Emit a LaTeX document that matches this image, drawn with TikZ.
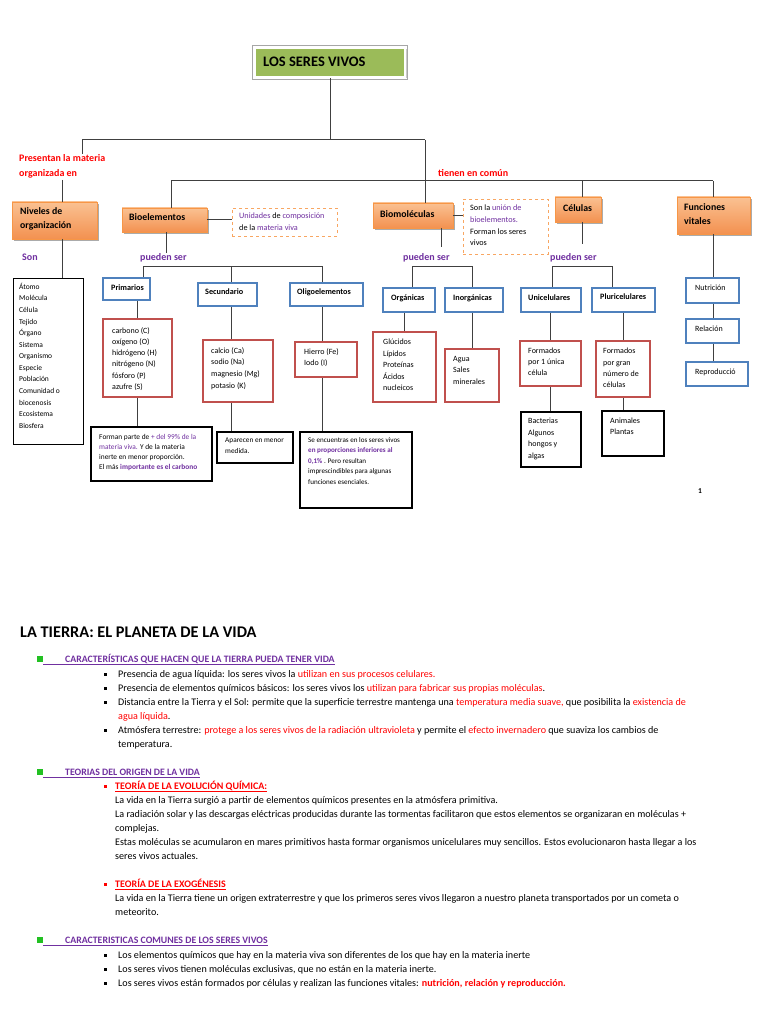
\documentclass[tikz,border=0pt]{standalone}
\usepackage{fontspec}
\setmainfont{Carlito}
\usetikzlibrary{fit,shadows}
\definecolor{purp}{HTML}{7030A0}
\definecolor{redt}{HTML}{FF0000}
\definecolor{ored}{HTML}{C0504D}
\definecolor{oblue}{HTML}{4F81BD}
\definecolor{oorange}{HTML}{F79646}
\definecolor{ortop}{HTML}{FAC192}
\definecolor{orbot}{HTML}{F39150}
\definecolor{ogreen}{HTML}{9BBB59}
\definecolor{conc}{HTML}{404040}
\definecolor{gbul}{HTML}{22C022}
\newcommand\fsz[2]{\fontsize{#1}{#2}\selectfont}
\newcommand\redtx[1]{\textcolor{redt}{#1}}
\newcommand\purtx[1]{\textcolor{purp}{#1}}
\begin{document}
\begin{tikzpicture}[x=1pt,y=-1pt,
  con/.style={draw=conc, line width=1pt},
  obox/.style={rectangle, inner sep=0pt, draw=oorange, line width=0.6pt, top color=ortop, bottom color=orbot,
    drop shadow={shadow xshift=1.8pt, shadow yshift=-2pt, fill=black!60, opacity=0.55}},
  dbox/.style={rectangle, inner sep=0pt, draw=oorange!85, dashed, line width=0.9pt},
  bbox/.style={rectangle, inner sep=0pt, draw=oblue, line width=2.4pt, fill=white},
  rbox/.style={rectangle, inner sep=0pt, draw=ored, line width=2.4pt, fill=white},
  kbox/.style={rectangle, inner sep=0pt, draw=black, line width=2.8pt, fill=white},
  lbox/.style={rectangle, inner sep=0pt, draw=black, line width=0.9pt},
  tx/.style={inner sep=0pt, anchor=north west, align=left},
  otx/.style={tx, font=\bfseries\fsz{9.8}{14}},
  btx/.style={tx, font=\bfseries\fsz{8.2}{9}},
  ftx/.style={tx, font=\fsz{8}{9}},
  lab/.style={tx, font=\bfseries\fsz{10}{15}},
  body/.style={inner sep=0pt, anchor=base west, font=\fsz{10.1}{12}},
  head/.style={inner sep=0pt, anchor=base west, font=\bfseries\fsz{9.8}{12}, text=purp},
  sq/.style={fill=black, minimum size=3pt, inner sep=0pt},
  rsq/.style={fill=redt, minimum size=3pt, inner sep=0pt},
  gsq/.style={fill=gbul, minimum width=6pt, minimum height=6pt, inner sep=0pt}
]
\useasboundingbox (0,0) rectangle (768,1024);
\fill[white] (0,0) rectangle (768,1024);

% ---------- boxes ----------
\node[inner sep=0pt, fit={(255,48) (405,77)}, fill=ogreen, draw=white, line width=2.2pt,
  drop shadow={shadow xshift=1.5pt, shadow yshift=-1.5pt, fill=black!40, opacity=0.5}] (title) {};
\draw[gray!70, line width=0.6pt] ([shift={(-1.4,-1.4)}]title.north west) rectangle ([shift={(1.4,1.4)}]title.south east);

\node[obox, fit={(12,202) (97,239)}] (niv) {};
\node[obox, fit={(122,208) (207,232)}] (bio) {};
\node[obox, fit={(373,203) (453,228)}] (biom) {};
\node[obox, fit={(555,197) (601,222)}] (cel) {};
\node[obox, fit={(677,197) (750,234)}] (fun) {};

\node[dbox, fit={(232,208) (337,236)}] (uni) {};
\node[dbox, fit={(463,199) (548,254)}] (son) {};

\node[lbox, fit={(13,278) (83,444)}] (list) {};

\node[bbox, fit={(103,278) (150,300)}] (pri) {};
\node[bbox, fit={(198,283) (257,306)}] (sec) {};
\node[bbox, fit={(290,283) (363,306)}] (oli) {};
\node[bbox, fit={(383,288) (435,312)}] (org) {};
\node[bbox, fit={(445,288) (503,312)}] (inorg) {};
\node[bbox, fit={(521,288) (581,312)}] (unic) {};
\node[bbox, fit={(592,288) (655,312)}] (pluri) {};
\node[bbox, fit={(686,278) (739,303)}] (nut) {};
\node[bbox, fit={(686,319) (739,343)}] (rel) {};
\node[bbox, fit={(686,362) (748,386)}] (rep) {};

\node[rbox, fit={(103,319) (172,397)}] (carb) {};
\node[rbox, fit={(203,340) (273,402)}] (secr) {};
\node[rbox, fit={(295,342) (357,377)}] (olir) {};
\node[rbox, fit={(373,332) (436,402)}] (orgr) {};
\node[rbox, fit={(445,349) (499,402)}] (inorgr) {};
\node[rbox, fit={(520,341) (581,386)}] (unir) {};
\node[rbox, fit={(596,341) (650,397)}] (plurir) {};

\node[kbox, fit={(91,427) (212,481)}] (formk) {};
\node[kbox, fit={(217,432) (293,463)}] (apak) {};
\node[kbox, fit={(300,432) (412,508)}] (olik) {};
\node[kbox, fit={(521,412) (581,467)}] (bactk) {};
\node[kbox, fit={(602,411) (664,456)}] (animk) {};

% ---------- box texts ----------
\node[tx, font=\bfseries\fsz{14.5}{16}] (t_title) at (263,56.6) {LOS SERES VIVOS};
\node[otx] (t_niv) at (20,207.4) {Niveles de\\organización};
\node[otx] (t_bio) at (129,213.6) {Bioelementos};
\node[otx] (t_biom) at (380,210.6) {Biomoléculas};
\node[otx] (t_cel) at (563,204) {Células};
\node[otx] (t_fun) at (684,203.8) {Funciones\\vitales};

\node[tx, font=\fsz{8.2}{12}] (t_uni) at (239,213) {\purtx{Unidades} de \purtx{composición}\\de la \purtx{materia viva}};
\node[tx, font=\fsz{8.2}{11.7}] (t_son) at (470,205) {Son la \purtx{unión de}\\\purtx{bioelementos.}\\Forman los seres\\vivos};

\node[ftx, font=\fsz{7.5}{11.58}] (t_list) at (19,282.8) {Átomo\\Molécula\\Célula\\Tejido\\Órgano\\Sistema\\Organismo\\Especie\\Población\\Comunidad o\\biocenosis\\Ecosistema\\Biosfera};

\node[btx] (t_pri) at (111,285) {Primarios};
\node[btx] (t_sec) at (205,289) {Secundario};
\node[btx] (t_oli) at (297,289) {Oligoelementos};
\node[btx] (t_org) at (391,295) {Orgánicas};
\node[btx] (t_inorg) at (453,295) {Inorgánicas};
\node[btx] (t_unic) at (528,295) {Unicelulares};
\node[btx] (t_pluri) at (600,294) {Pluricelulares};
\node[ftx] (t_nut) at (695,285) {Nutrición};
\node[ftx] (t_rel) at (695,326) {Relación};
\node[ftx] (t_rep) at (695,369) {Reproducció};

\node[ftx, font=\fsz{8}{11.3}] (t_carb) at (112,327) {carbono (C)\\oxígeno (O)\\hidrógeno (H)\\nitrógeno (N)\\fósforo (P)\\azufre (S)};
\node[ftx, font=\fsz{8}{11.8}] (t_secr) at (211,347) {calcio (Ca)\\sodio (Na)\\magnesio (Mg)\\potasio (K)};
\node[ftx, font=\fsz{8}{11}] (t_olir) at (304,348) {Hierro (Fe)\\Iodo (I)};
\node[ftx, font=\fsz{8}{11.5}] (t_orgr) at (383,339) {Glúcidos\\Lípidos\\Proteínas\\Ácidos\\nucleicos};
\node[ftx, font=\fsz{8}{11.5}] (t_inorgr) at (453,356) {Agua\\Sales\\minerales};
\node[ftx, font=\fsz{8}{11}] (t_unir) at (528,348) {Formados\\por 1 única\\célula};
\node[ftx, font=\fsz{8}{11.3}] (t_plurir) at (603,348) {Formados\\por gran\\número de\\células};
\node[ftx, font=\fsz{8}{11.6}] (t_bact) at (528,418) {Bacterias\\Algunos\\hongos y\\algas};
\node[ftx, font=\fsz{8}{11}] (t_anim) at (610,418) {Animales\\Plantas};

\node[tx, font=\fsz{7.4}{10}] (t_form) at (99,434.3) {Forman parte de \purtx{+ del 99\% de la}\\\purtx{materia viva.} Y de la materia\\inerte en menor proporción.\\El más \textbf{\purtx{importante es el carbono}}};
\node[tx, font=\fsz{7.3}{11}] (t_apa) at (225,437.3) {Aparecen en menor\\medida.};
\node[tx, font=\fsz{7.1}{10.5}] (t_olik) at (308,437.3) {Se encuentras en los seres vivos\\\textbf{\purtx{en proporciones inferiores al}}\\\textbf{\purtx{0,1\%}} . Pero resultan\\imprescindibles para algunas\\funciones esenciales.};

% ---------- labels ----------
\node[lab, text=redt] (pres) at (19,154.3) {Presentan la materia\\organizada en};
\node[lab, text=redt] (tien) at (438,169.3) {tienen en común};
\node[lab, text=purp] (sonl) at (22,253.3) {Son};
\node[lab, text=purp] (pued1) at (140,253.3) {pueden ser};
\node[lab, text=purp] (pued2) at (403,253.3) {pueden ser};
\node[lab, text=purp] (pued3) at (550,253.3) {pueden ser};
\node[tx, font=\bfseries\fsz{7.5}{9}] (pgnum) at (698,488) {1};

% ---------- connectors ----------
\coordinate (jT) at (330,140);
\coordinate (jL) at (82,140);
\coordinate (jR) at (425,140);
\draw[con] (title.south) -- (jT);
\draw[con] (jL) -- (jR);
\draw[con] (jL) -- (jL |- pres.north);
\draw[con] (jR) -- (jR |- biom.north);
\coordinate (jP) at (62,180);
\draw[con] (jP) -- (jP |- niv.north);
\coordinate (jA) at (171,181);
\coordinate (jB) at (713,181);
\coordinate (jC) at (582,181);
\draw[con] (jA) -- (jB);
\draw[con] (jA) -- (jA |- bio.north);
\draw[con] (jC) -- (jC |- cel.north);
\draw[con] (jB) -- (jB |- fun.north);
\coordinate (jN) at (62,0);
\draw[con] (niv.south -| jN) -- (list.north -| jN);

\draw[con] (bio.east) -- (bio.east -| uni.west);
\coordinate (b1) at (166,253);
\draw[con] (b1 |- bio.south) -- (b1);
\coordinate (h1a) at (143,266);
\coordinate (h1c) at (231,266);
\coordinate (h1b) at (322,266);
\draw[con] (h1a) -- (h1b);
\draw[con] (h1a) -- (h1a |- pri.north);
\draw[con] (h1c) -- (h1c |- sec.north);
\draw[con] (h1b) -- (h1b |- oli.north);
\draw[con] (pri.south -| carb.north) -- (carb.north);
\draw[con] (carb.south) -- (carb.south |- formk.north);
\draw[con] (sec.south -| h1c) -- (secr.north -| h1c);
\draw[con] (secr.south -| h1c) -- (apak.north -| h1c);
\draw[con] (oli.south -| h1b) -- (olir.north -| h1b);
\draw[con] (olir.south -| h1b) -- (olik.north -| h1b);

\coordinate (b2) at (441,247);
\draw[con] (b2 |- biom.south) -- (b2);
\draw[con] (biom.east) -- (biom.east -| son.west);
\coordinate (h2a) at (412,266);
\coordinate (h2b) at (472,266);
\draw[con] (h2a) -- (h2b);
\draw[con] (h2a) -- (h2a |- org.north);
\draw[con] (h2b) -- (h2b |- inorg.north);
\draw[con] (org.south -| orgr.north) -- (orgr.north);
\draw[con] (inorg.south -| h2b) -- (inorgr.north -| h2b);

\coordinate (b3) at (582,244);
\draw[con] (b3 |- cel.south) -- (b3);
\coordinate (h3a) at (552,266);
\coordinate (h3b) at (612,266);
\draw[con] (h3a) -- (h3b);
\draw[con] (h3a) -- (h3a |- unic.north);
\draw[con] (h3b) -- (h3b |- pluri.north);
\draw[con] (unic.south -| unir.north) -- (unir.north);
\draw[con] (unir.south) -- (unir.south |- bactk.north);
\draw[con] (pluri.south -| plurir.north) -- (plurir.north);
\draw[con] (plurir.south) -- (plurir.south |- animk.north);

\draw[con] (fun.south) -- (fun.south |- nut.north);
\draw[con] (nut.south -| fun.south) -- (rel.north -| fun.south);
\draw[con] (rel.south -| fun.south) -- (rep.north -| fun.south);

% ---------- lower text ----------
\node[inner sep=0pt, anchor=base west, font=\bfseries\fsz{16.3}{18}] (htierra) at (20,637) {LA TIERRA: EL PLANETA DE LA VIDA};

\node[gsq] (g1) at (40,659) {};
\node[head] (h1) at (65,662.5) {CARACTERÍSTICAS QUE HACEN QUE LA TIERRA PUEDA TENER VIDA};
\draw[purp, line width=0.8pt] (43,664.5) -- ([yshift=-2pt]h1.base east);
\node[sq] (s1) at (105,674) {};
\node[body] (l1) at (118,677.5) {Presencia de agua líquida: los seres vivos la \redtx{utilizan en sus procesos celulares.}};
\node[sq] (s2) at (105,688) {};
\node[body] (l2) at (118,691.5) {Presencia de elementos químicos básicos: los seres vivos los \redtx{utilizan para fabricar sus propias moléculas}.};
\node[sq] (s3) at (105,702) {};
\node[body] (l3) at (118,705.5) {Distancia entre la Tierra y el Sol: permite que la superficie terrestre mantenga una \redtx{temperatura media suave,} que posibilita la \redtx{existencia de}};
\node[body] (l4) at (118,719.5) {\redtx{agua líquida}.};
\node[sq] (s4) at (105,730) {};
\node[body] (l5) at (118,733.5) {Atmósfera terrestre: \redtx{protege a los seres vivos de la radiación ultravioleta} y permite el \redtx{efecto invernadero} que suaviza los cambios de};
\node[body] (l6) at (118,747.5) {temperatura.};

\node[gsq] (g2) at (40,772) {};
\node[head] (h2) at (65,775.5) {TEORIAS DEL ORIGEN DE LA VIDA};
\draw[purp, line width=0.8pt] (43,777.5) -- ([yshift=-2pt]h2.base east);
\node[rsq] (s5) at (105,786) {};
\node[body, text=redt, font=\bfseries\fsz{10}{12}] (ev) at (115,789.5) {TEORÍA DE LA EVOLUCIÓN QUÍMICA:};
\draw[redt, line width=0.7pt] ([yshift=-2pt]ev.base west) -- ([yshift=-2pt]ev.base east);
\node[body] (l7) at (115,803.5) {La vida en la Tierra surgió a partir de elementos químicos presentes en la atmósfera primitiva.};
\node[body] (l8) at (115,817.5) {La radiación solar y las descargas eléctricas producidas durante las tormentas facilitaron que estos elementos se organizaran en moléculas +};
\node[body] (l9) at (115,831.5) {complejas.};
\node[body] (l10) at (115,845.5) {Estas moléculas se acumularon en mares primitivos hasta formar organismos unicelulares muy sencillos. Estos evolucionaron hasta llegar a los};
\node[body] (l11) at (115,859.5) {seres vivos actuales.};
\node[rsq] (s6) at (105,884) {};
\node[body, text=redt, font=\bfseries\fsz{10}{12}] (ex) at (115,887.5) {TEORÍA DE LA EXOGÉNESIS};
\draw[redt, line width=0.7pt] ([yshift=-2pt]ex.base west) -- ([yshift=-2pt]ex.base east);
\node[body] (l12) at (115,901.5) {La vida en la Tierra tiene un origen extraterrestre y que los primeros seres vivos llegaron a nuestro planeta transportados por un cometa o};
\node[body] (l13) at (115,915.5) {meteorito.};

\node[gsq] (g3) at (40,940) {};
\node[head] (h3) at (65,943.5) {CARACTERISTICAS COMUNES DE LOS SERES VIVOS};
\draw[purp, line width=0.8pt] (43,945.5) -- ([yshift=-2pt]h3.base east);
\node[sq] (s7) at (105,955) {};
\node[body] (l14) at (118,958.5) {Los elementos químicos que hay en la materia viva son diferentes de los que hay en la materia inerte};
\node[sq] (s8) at (105,969) {};
\node[body] (l15) at (118,972.5) {Los seres vivos tienen moléculas exclusivas, que no están en la materia inerte.};
\node[sq] (s9) at (105,983) {};
\node[body] (l16) at (118,986.5) {Los seres vivos están formados por células y realizan las funciones vitales: \textbf{\redtx{nutrición, relación y reproducción.}}};
\end{tikzpicture}
\end{document}
